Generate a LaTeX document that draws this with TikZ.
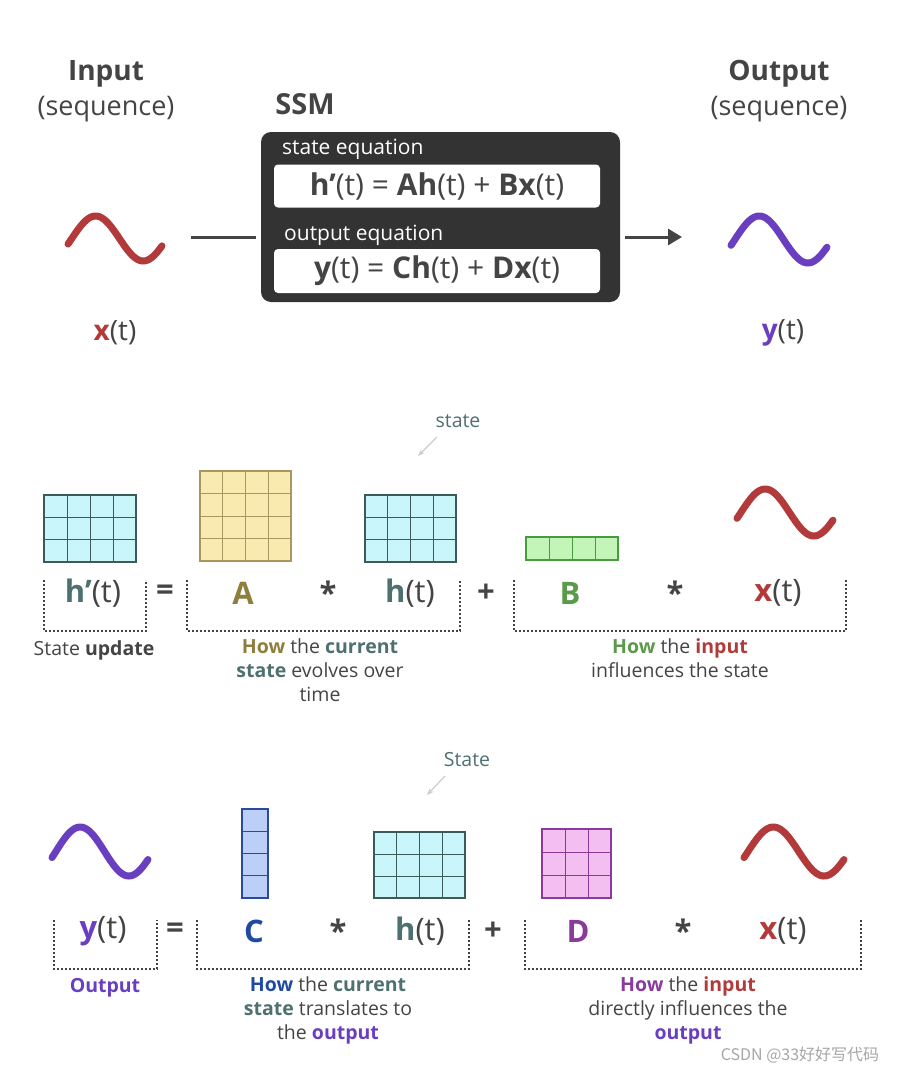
\documentclass[tikz,border=0pt]{standalone}
\usepackage{fontspec}
\setmainfont{Open Sans}
\usetikzlibrary{arrows.meta}
\definecolor{txt}{HTML}{444444}
\definecolor{hcol}{HTML}{4E7070}
\definecolor{acol}{HTML}{8E7D3C}
\definecolor{bcol}{HTML}{5A9A4A}
\definecolor{xcol}{HTML}{B23A3A}
\definecolor{ycol}{HTML}{6A3FBF}
\definecolor{ccol}{HTML}{1F4AA0}
\definecolor{dcol}{HTML}{8A3A9A}
\definecolor{boxbg}{HTML}{333333}
\tikzset{
 big/.style={font=\fontsize{31}{34}\selectfont, text=txt, inner sep=0pt},
 lab/.style={font=\fontsize{19.5}{24}\selectfont, text=txt, align=center, inner sep=0pt},
 brk/.style={dash pattern=on 2pt off 2pt, line width=1.5pt, draw=txt},
 wavestyle/.style={line width=7pt, line cap=round},
}
\newcommand\mygrid[8]{% x y w h cols rows fill draw
 \fill[#7] (#1,#2) rectangle ++(#3,#4);
 \foreach \i in {1,...,#5}{\draw[#8,line width=1pt] ({#1+#3*\i/#5},#2) -- ++(0,#4);}
 \foreach \j in {1,...,#6}{\draw[#8,line width=1pt] (#1,{#2+#4*\j/#6}) -- ++(#3,0);}
 \draw[#8,line width=1.2pt] (#1,#2) rectangle ++(#3,#4);}
\newcommand\mywave[5]{% x0 y0(top) w h color
 \draw[wavestyle,#5] plot[domain=-0.25:5.95,samples=60,smooth,variable=\t]
   ({#1+#3*(\t+0.25)/6.2},{#2+#4/2-#4/2*sin(\t r)});}
\begin{document}
\begin{tikzpicture}[x=1pt,y=-1pt]
\useasboundingbox (0,0) rectangle (914,1074);
% ---------- top ----------
\node[font=\fontsize{28}{30}\selectfont\bfseries,text=txt] (inp) at (106,74) {Input};
\node[font=\fontsize{27}{30}\selectfont,text=txt] (inps) at (106,109) {(sequence)};
\node[font=\fontsize{28}{30}\selectfont\bfseries,text=txt] (outp) at (779,74) {Output};
\node[font=\fontsize{27}{30}\selectfont,text=txt] (outps) at (779,109) {(sequence)};
\node[font=\fontsize{29}{30}\selectfont\bfseries,text=txt] (ssm) at (305,104) {SSM};
\fill[boxbg,rounded corners=10pt] (261,132) rectangle (620,302);
\coordinate (boxl) at (256,237); \coordinate (boxr) at (625,237);
\node[font=\fontsize{21}{22}\selectfont,text=white,anchor=west,inner sep=0pt] (se) at (282,149) {state equation};
\node[font=\fontsize{21}{22}\selectfont,text=white,anchor=west,inner sep=0pt] (oe) at (284,235) {output equation};
\node[fill=white,rounded corners=4pt,minimum width=326pt,minimum height=43pt,inner sep=0pt,
  font=\fontsize{30}{32}\selectfont,text=txt] (eq1) at (437,186)
  {\textbf{h’}(t) = \textbf{Ah}(t) + \textbf{Bx}(t)};
\node[fill=white,rounded corners=4pt,minimum width=326pt,minimum height=44pt,inner sep=0pt,
  font=\fontsize{30}{32}\selectfont,text=txt] (eq2) at (437,271)
  {\textbf{y}(t) = \textbf{Ch}(t) + \textbf{Dx}(t)};
\coordinate (inend) at (191,237);
\coordinate (outend) at (682,237);
\draw[line width=3pt,draw=txt] (inend) -- (boxl);
\draw[line width=3pt,draw=txt,-{Triangle[length=14pt,width=16pt]}] (boxr) -- (outend);
\mywave{68}{216}{94}{45}{xcol}
\mywave{731}{216}{96}{47}{ycol}
\node[big,font=\fontsize{28}{30}\selectfont] (xt0) at (115,333) {\textbf{\textcolor{xcol}{x}}(t)};
\node[big,font=\fontsize{28}{30}\selectfont] (yt0) at (783,333) {\textbf{\textcolor{ycol}{y}}(t)};
% ---------- row 1 ----------
\mygrid{44}{495}{92}{67}{4}{3}{fill={rgb,255:red,200;green,246;blue,250}}{draw={rgb,255:red,61;green,90;blue,90}}
\mygrid{200}{471}{91}{90}{4}{4}{fill={rgb,255:red,249;green,234;blue,176}}{draw={rgb,255:red,168;green,152;blue,96}}
\mygrid{365}{495}{91}{67}{4}{3}{fill={rgb,255:red,200;green,246;blue,250}}{draw={rgb,255:red,61;green,90;blue,90}}
\mygrid{526}{537}{92}{23}{4}{1}{fill={rgb,255:red,196;green,245;blue,184}}{draw={rgb,255:red,74;green,154;blue,64}}
\mywave{737}{489}{96}{47}{xcol}
\node[big] (hp1) at (93,593) {\textbf{\textcolor{hcol}{h’}}(t)};
\node[big] (eq1s) at (165,593) {\textbf{=}};
\node[big] (a1) at (243,593) {\textbf{\textcolor{acol}{A}}};
\node[big] (m1) at (328,593) {\textbf{*}};
\node[big] (h1) at (410,593) {\textbf{\textcolor{hcol}{h}}(t)};
\node[big] (p1) at (486,593) {\textbf{+}};
\node[big] (b1) at (570,593) {\textbf{\textcolor{bcol}{B}}};
\node[big] (m2) at (675,593) {\textbf{*}};
\node[big] (x1) at (778,593) {\textbf{\textcolor{xcol}{x}}(t)};
\draw[brk] (44,580) |- (146,631) -- (146,580);
\draw[brk] (187,580) |- (460,631) -- (460,580);
\draw[brk] (514,580) |- (846,631) -- (846,580);
\node[lab] (l1) at (94,650) {State \textbf{update}};
\node[lab,anchor=north] (l2) at (320,638) {\textbf{\textcolor{acol}{How}} the \textbf{\textcolor{hcol}{current}}\\\textbf{\textcolor{hcol}{state}} evolves over\\time};
\node[lab,anchor=north] (l3) at (680,638) {\textbf{\textcolor{bcol}{How}} the \textbf{\textcolor{xcol}{input}}\\influences the state};
\node[lab,text=hcol] (st1) at (458,421) {state};
\coordinate (st1a) at (437,437); \coordinate (st1b) at (418,456);
\draw[gray!40,line width=1.2pt,-{Stealth[length=7pt]}] (st1a) -- (st1b);
% ---------- row 2 ----------
\mywave{52}{827}{96}{49}{ycol}
\mygrid{242}{809}{26}{89}{1}{4}{fill={rgb,255:red,188;green,208;blue,247}}{draw={rgb,255:red,43;green,75;blue,154}}
\mygrid{374}{832}{91}{66}{4}{3}{fill={rgb,255:red,200;green,246;blue,250}}{draw={rgb,255:red,61;green,90;blue,90}}
\mygrid{542}{829}{69}{69}{3}{3}{fill={rgb,255:red,242;green,191;blue,240}}{draw={rgb,255:red,138;green,58;blue,154}}
\mywave{744}{827}{100}{49}{xcol}
\node[big] (y2) at (103,931) {\textbf{\textcolor{ycol}{y}}(t)};
\node[big] (eq2s) at (175,931) {\textbf{=}};
\node[big] (c2) at (254,931) {\textbf{\textcolor{ccol}{C}}};
\node[big] (m3) at (338,931) {\textbf{*}};
\node[big] (h2) at (420,931) {\textbf{\textcolor{hcol}{h}}(t)};
\node[big] (p2) at (493,931) {\textbf{+}};
\node[big] (d2) at (578,931) {\textbf{\textcolor{dcol}{D}}};
\node[big] (m4) at (683,931) {\textbf{*}};
\node[big] (x2) at (783,931) {\textbf{\textcolor{xcol}{x}}(t)};
\draw[brk] (54,920) |- (157,969) -- (157,920);
\draw[brk] (197,920) |- (469,969) -- (469,920);
\draw[brk] (525,920) |- (861,969) -- (861,920);
\node[lab] (l4) at (105,988) {\textbf{\textcolor{ycol}{Output}}};
\node[lab,anchor=north] (l5) at (328,976) {\textbf{\textcolor{ccol}{How}} the \textbf{\textcolor{hcol}{current}}\\\textbf{\textcolor{hcol}{state}} translates to\\the \textbf{\textcolor{ycol}{output}}};
\node[lab,anchor=north] (l6) at (688,976) {\textbf{\textcolor{dcol}{How}} the \textbf{\textcolor{xcol}{input}}\\directly influences the\\\textbf{\textcolor{ycol}{output}}};
\node[lab,text=hcol] (st2) at (467,760) {State};
\coordinate (st2a) at (445,776); \coordinate (st2b) at (427,795);
\draw[gray!40,line width=1.2pt,-{Stealth[length=7pt]}] (st2a) -- (st2b);
\newfontfamily\cjk{Noto Sans CJK SC}
\node[font=\fontsize{16}{18}\selectfont\cjk,text=gray!70] (wm) at (800,1055) {CSDN @33好好写代码};
\end{tikzpicture}
\end{document}
